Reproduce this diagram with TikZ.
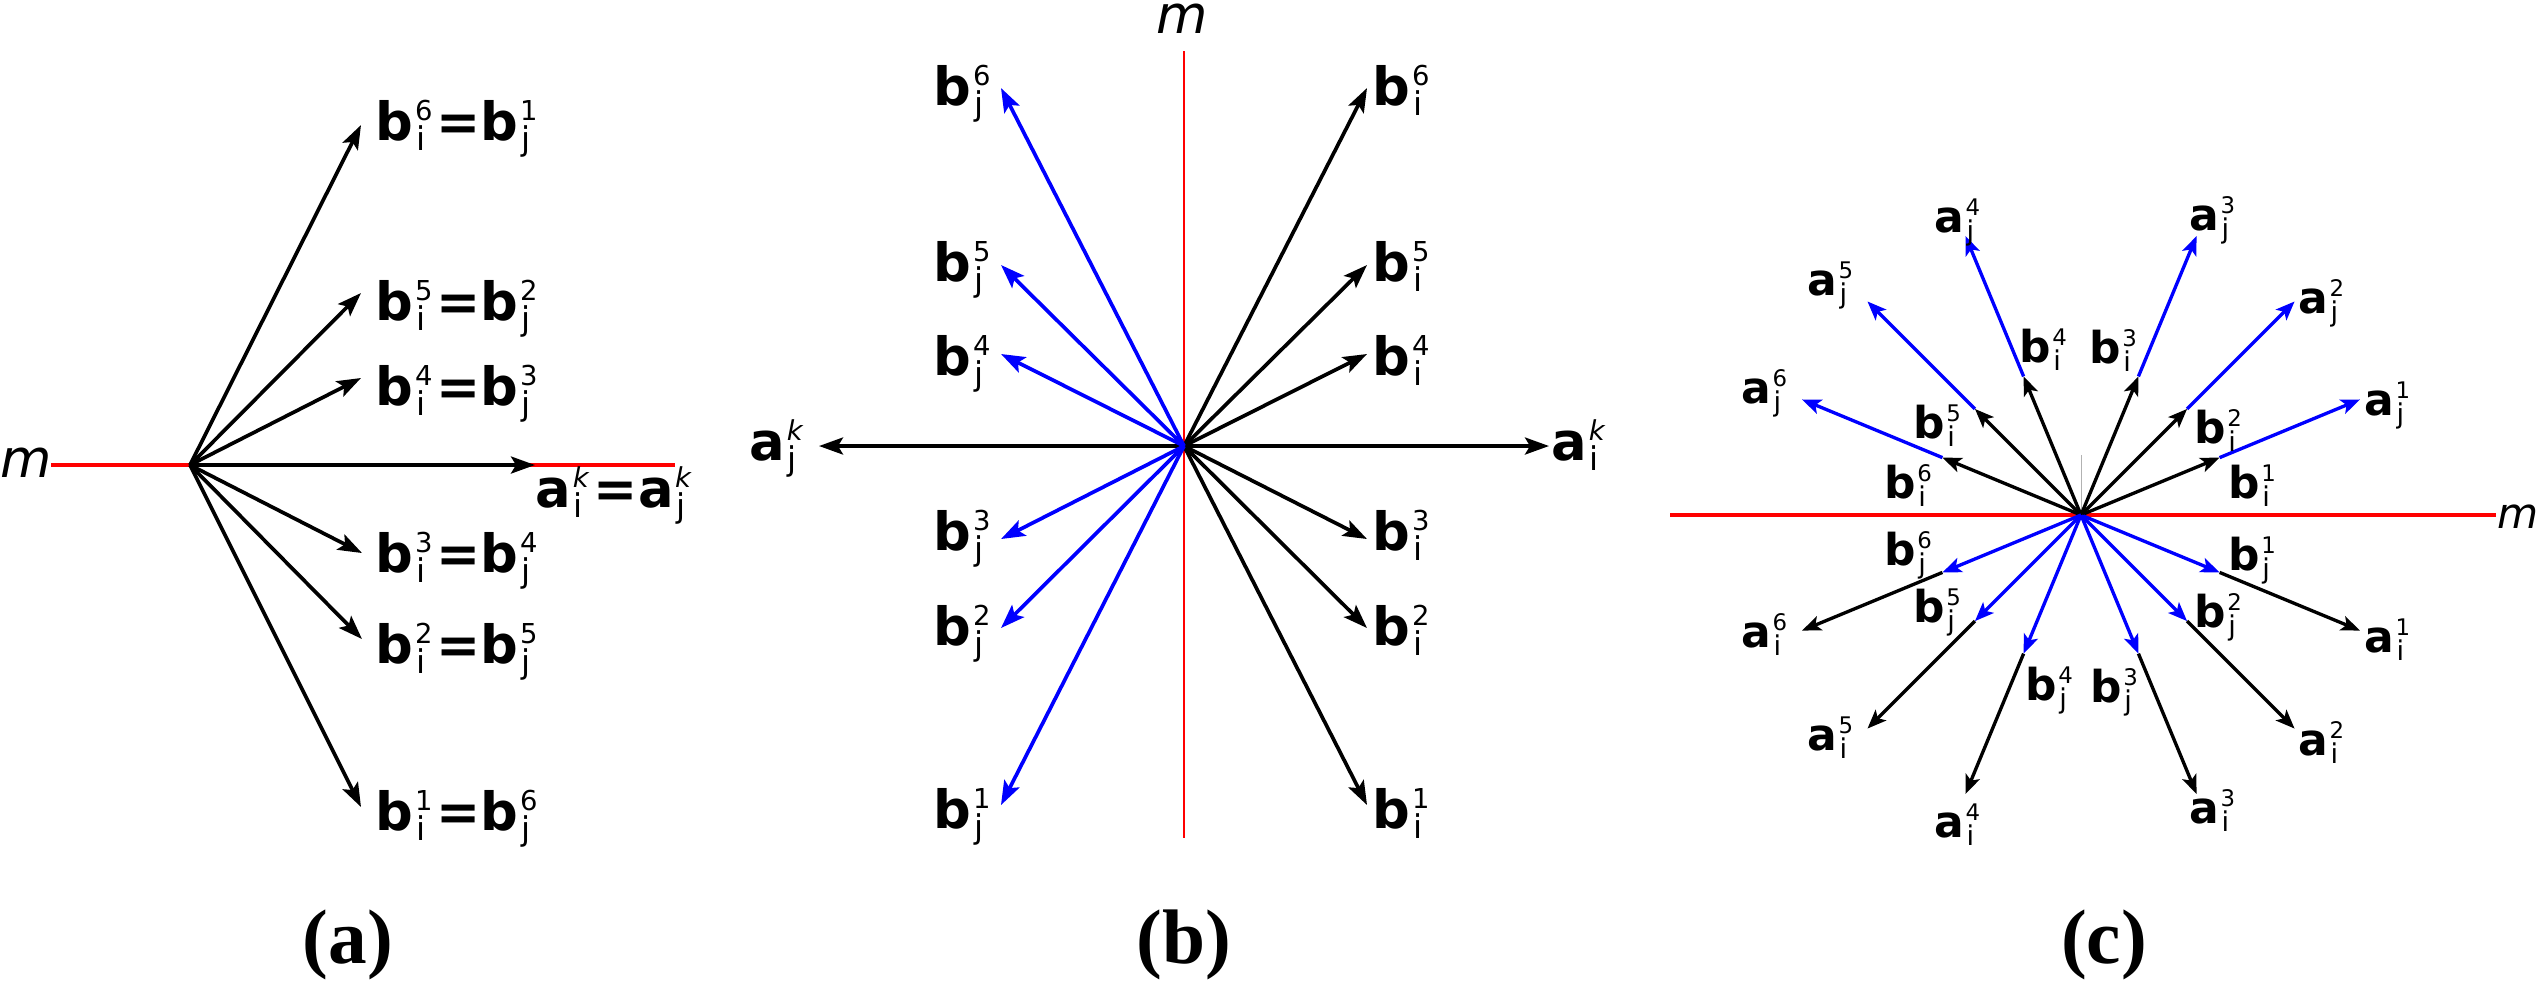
\documentclass[tikz,border=0pt]{standalone}
\usepackage{fontspec}
\setmainfont{DejaVu Sans}
\newfontfamily\capfont{Liberation Serif}
\usepackage{graphicx}
\usetikzlibrary{arrows.meta,calc}
\newcommand{\vl}[3]{\textbf{#1}\kern0.03em\makebox[0pt][l]{\kern0.02em\raisebox{-0.2em}{\scalebox{0.62}{#2}}}\raisebox{0.37em}{\scalebox{0.52}{#3}}}
\newcommand{\eqs}{\kern0.08em\textbf{=}}
\begin{document}
\begin{tikzpicture}[x=0.1mm,y=-0.1mm,
  arr/.style={line width=1.05pt,-{Stealth[length=2.4mm,width=1.7mm,inset=0.5mm]}},
  arrc/.style={line width=0.95pt,-{Stealth[length=1.9mm,width=1.5mm,inset=0.45mm]}},
  redl/.style={red,line width=1pt},
  redb/.style={red,line width=0.8pt},
  lab/.style={inner sep=0pt,anchor=base west,font=\fontsize{15}{18}\selectfont},
  labc/.style={inner sep=0pt,anchor=base west,font=\fontsize{12.5}{15}\selectfont},
  mlab/.style={inner sep=0pt,font=\fontsize{15}{18}\selectfont\itshape},
  captxt/.style={inner sep=0pt,anchor=base,font=\fontsize{22}{26}\selectfont\capfont\bfseries}]
\useasboundingbox (0,0) rectangle (2538,982);

% ---------------- panel (a)
\coordinate (Oa) at (190,465);
\coordinate (Ral) at (51,465);
\coordinate (Rar) at (675,465);
\draw[redl] (Ral) -- (Rar);
\node[mlab,anchor=base west] (ma) at (0,477) {m};
\coordinate (Ta6) at (361,125);
\coordinate (Ta5) at (361,293);
\coordinate (Ta4) at (361,378);
\coordinate (Tak) at (535,465);
\coordinate (Ta3) at (362,553);
\coordinate (Ta2) at (362,639);
\coordinate (Ta1) at (361,807);
\foreach \t in {Ta6,Ta5,Ta4,Tak,Ta3,Ta2,Ta1} \draw[arr] (Oa) -- (\t);
\node[lab] (la6) at (375,140) {\vl{b}{i}{6}\eqs\vl{b}{j}{1}};
\node[lab] (la5) at (375,320) {\vl{b}{i}{5}\eqs\vl{b}{j}{2}};
\node[lab] (la4) at (375,405) {\vl{b}{i}{4}\eqs\vl{b}{j}{3}};
\node[lab] (lak) at (535,507) {\vl{a}{i}{\textit{k}}\eqs\vl{a}{j}{\textit{k}}};
\node[lab] (la3) at (375,572) {\vl{b}{i}{3}\eqs\vl{b}{j}{4}};
\node[lab] (la2) at (375,663) {\vl{b}{i}{2}\eqs\vl{b}{j}{5}};
\node[lab] (la1) at (375,830) {\vl{b}{i}{1}\eqs\vl{b}{j}{6}};
\node[captxt] (capa) at (348,963) {(a)};

% ---------------- panel (b)
\coordinate (Ob) at (1184,446);
\coordinate (Rbt) at (1184,51);
\coordinate (Rbb) at (1184,838);
\draw[redb] (Rbt) -- (Rbb);
\node[mlab,anchor=base] (mb) at (1182,33) {m};
\coordinate (Tbik) at (1549,446);
\coordinate (Tbjk) at (819,446);
\coordinate (Tbi6) at (1367,88);
\coordinate (Tbi5) at (1367,265);
\coordinate (Tbi4) at (1367,354);
\coordinate (Tbi3) at (1367,539);
\coordinate (Tbi2) at (1367,628);
\coordinate (Tbi1) at (1367,805);
\coordinate (Tbj6) at (1001,88);
\coordinate (Tbj5) at (1001,265);
\coordinate (Tbj4) at (1001,354);
\coordinate (Tbj3) at (1001,539);
\coordinate (Tbj2) at (1001,628);
\coordinate (Tbj1) at (1001,805);
\foreach \t in {Tbik,Tbjk,Tbi6,Tbi5,Tbi4,Tbi3,Tbi2,Tbi1} \draw[arr] (Ob) -- (\t);
\foreach \t in {Tbj6,Tbj5,Tbj4,Tbj3,Tbj2,Tbj1} \draw[arr,blue] (Ob) -- (\t);
\node[lab] (lbik) at (1551,460) {\vl{a}{i}{\textit{k}}};
\node[lab] (lbjk) at (749,460) {\vl{a}{j}{\textit{k}}};
\node[lab] (lbi6) at (1372,105) {\vl{b}{i}{6}};
\node[lab] (lbi5) at (1372,281) {\vl{b}{i}{5}};
\node[lab] (lbi4) at (1372,375) {\vl{b}{i}{4}};
\node[lab] (lbi3) at (1372,550) {\vl{b}{i}{3}};
\node[lab] (lbi2) at (1372,645) {\vl{b}{i}{2}};
\node[lab] (lbi1) at (1372,828) {\vl{b}{i}{1}};
\node[lab] (lbj6) at (933,105) {\vl{b}{j}{6}};
\node[lab] (lbj5) at (933,281) {\vl{b}{j}{5}};
\node[lab] (lbj4) at (933,375) {\vl{b}{j}{4}};
\node[lab] (lbj3) at (933,550) {\vl{b}{j}{3}};
\node[lab] (lbj2) at (933,645) {\vl{b}{j}{2}};
\node[lab] (lbj1) at (933,828) {\vl{b}{j}{1}};
\node[captxt] (capb) at (1184,963) {(b)};

% ---------------- panel (c)
\coordinate (Oc) at (2081,515);
\coordinate (Rcl) at (1670,515);
\coordinate (Rcr) at (2496,515);
\coordinate (Gc) at (2081,455);
\draw[redl] (Rcl) -- (Rcr);
\draw[gray!60,line width=0.3pt] (Gc) -- (Oc);
\node[mlab,anchor=base west,font=\fontsize{12}{14}\selectfont\itshape] (mc) at (2497,528) {m};
\foreach \k/\ang in {1/-22.5,2/-45,3/-67.5,4/-112.5,5/-135,6/-157.5}{
  \coordinate (Bi\k) at ($(Oc)+(\ang:150)$);
  \coordinate (Aj\k) at ($(Oc)+(\ang:302)$);
}
\foreach \k/\ang in {1/22.5,2/45,3/67.5,4/112.5,5/135,6/157.5}{
  \coordinate (Bj\k) at ($(Oc)+(\ang:150)$);
  \coordinate (Ai\k) at ($(Oc)+(\ang:302)$);
}
\foreach \k in {1,...,6}{
  \draw[arrc,blue] (Bi\k) -- (Aj\k);
  \draw[arrc] (Bj\k) -- (Ai\k);
}
\foreach \k in {1,...,6}{
  \draw[arrc] (Oc) -- (Bi\k);
  \draw[arrc,blue] (Oc) -- (Bj\k);
}
\node[labc] (laj4) at (1934,232) {\vl{a}{j}{4}};
\node[labc] (laj3) at (2189,230) {\vl{a}{j}{3}};
\node[labc] (laj5) at (1807,295) {\vl{a}{j}{5}};
\node[labc] (laj2) at (2298,313) {\vl{a}{j}{2}};
\node[labc] (laj6) at (1741,403) {\vl{a}{j}{6}};
\node[labc] (laj1) at (2364,415) {\vl{a}{j}{1}};
\node[labc] (lci4) at (2019,362) {\vl{b}{i}{4}};
\node[labc] (lci3) at (2089,363) {\vl{b}{i}{3}};
\node[labc] (lci5) at (1913,438) {\vl{b}{i}{5}};
\node[labc] (lci2) at (2194,443) {\vl{b}{i}{2}};
\node[labc] (lci6) at (1884,498) {\vl{b}{i}{6}};
\node[labc] (lci1) at (2228,498) {\vl{b}{i}{1}};
\node[labc] (lcj6) at (1884,565) {\vl{b}{j}{6}};
\node[labc] (lcj1) at (2228,570) {\vl{b}{j}{1}};
\node[labc] (lcj5) at (1913,622) {\vl{b}{j}{5}};
\node[labc] (lcj2) at (2194,627) {\vl{b}{j}{2}};
\node[labc] (lcj4) at (2025,700) {\vl{b}{j}{4}};
\node[labc] (lcj3) at (2090,702) {\vl{b}{j}{3}};
\node[labc] (lai6) at (1741,647) {\vl{a}{i}{6}};
\node[labc] (lai1) at (2364,652) {\vl{a}{i}{1}};
\node[labc] (lai5) at (1807,750) {\vl{a}{i}{5}};
\node[labc] (lai2) at (2298,755) {\vl{a}{i}{2}};
\node[labc] (lai4) at (1934,837) {\vl{a}{i}{4}};
\node[labc] (lai3) at (2189,823) {\vl{a}{i}{3}};
\node[captxt] (capc) at (2104,963) {(c)};
\end{tikzpicture}
\end{document}
